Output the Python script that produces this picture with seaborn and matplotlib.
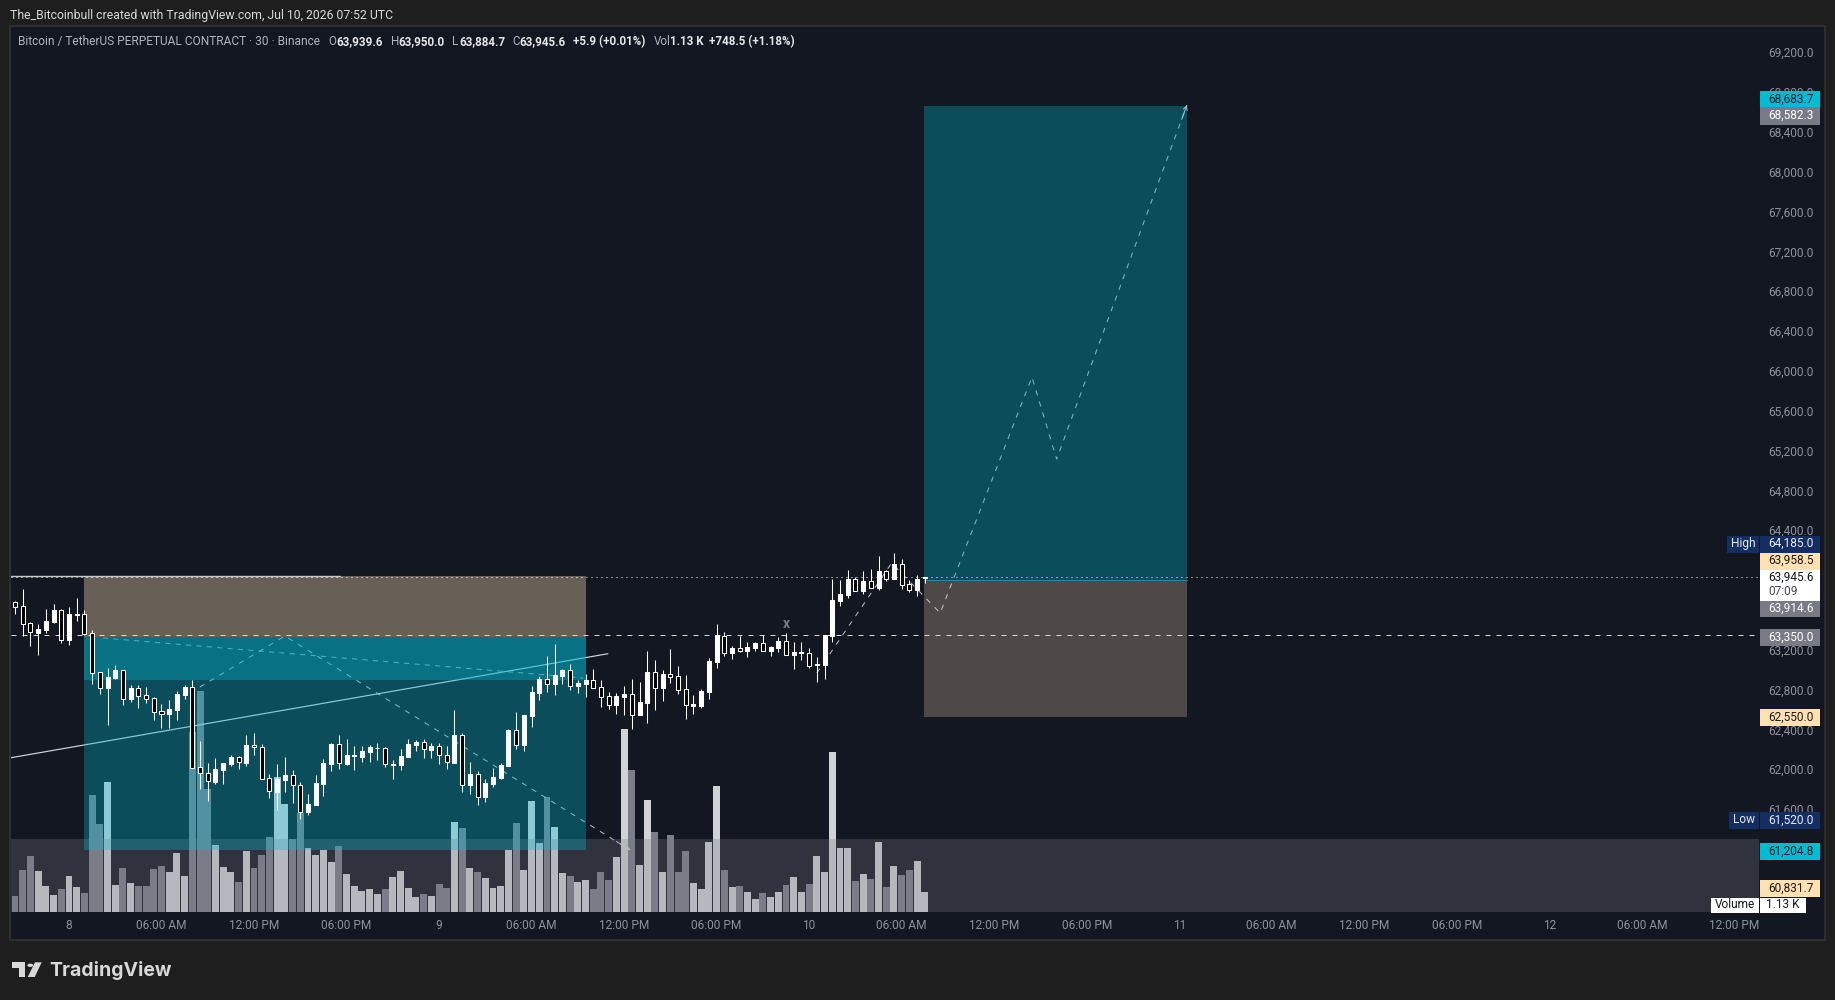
import matplotlib
matplotlib.use("Agg")
import matplotlib.pyplot as plt
from matplotlib.patches import Rectangle, Polygon, Circle
from matplotlib.transforms import ScaledTranslation
import seaborn as sns
import pandas as pd

# 30 minute bars, 0 is the bar of day "8"
first_bar = -7
opens = [63691,63651,63480,63383,63413,63494,63611,63313,63564,63571,63380,62988,62831,62931,63008,62720,62828,62757,62727,62597,
         62570,62610,62761,62838,62034,61974,61887,62008,62068,62135,62078,62255,62235,61924,61787,61907,61954,61854,61586,61656,
         61867,62068,62265,62065,62152,62138,62189,62225,62225,62061,62058,62138,62259,62285,62209,62245,62155,62077,62358,61856,
         61964,61736,61866,61927,62047,62405,62258,62549,62780,62917,62871,62951,63008,62850,62871,62907,62837,62747,62660,62741,
         62767,62560,62680,62988,62831,62968,62948,62818,62654,62650,62791,63092,63350,63182,63229,63202,63229,63279,63202,63233,
         63300,63162,63182,63179,63062,63062,63353,63705,63765,63922,63805,63902,63835,64002,63925,64073,63872,63815,63939.6]
highs = [63705,63825,63497,63474,63624,63674,63624,63644,63735,63614,63413,62988,63032,63062,63008,62861,62861,62841,62741,62670,
         62710,62801,62861,62911,62299,62078,62128,62078,62158,62148,62359,62379,62269,61967,62068,62138,62008,61887,61767,61957,
         62118,62279,62359,62319,62249,62249,62259,62279,62235,62108,62218,62319,62309,62319,62279,62279,62249,62609,62379,62087,
         61997,61917,62027,62077,62419,62589,62559,62850,62951,63152,63272,63021,63071,62911,62971,63021,62911,62790,62780,62851,
         62921,62891,63202,63112,63012,63223,63052,62961,62761,62821,63132,63474,63393,63253,63353,63293,63293,63363,63253,63343,
         63383,63293,63293,63233,63142,63363,63925,63915,64016,63945,64006,64026,64156,64016,64185,64126,63915,63966,63950]
lows = [63574,63356,63253,63162,63383,63484,63283,63263,63504,63363,62871,62771,62459,62921,62660,62690,62630,62680,62510,62429,
        62429,62510,62720,62031,61814,61696,61867,61867,62048,62018,62048,62158,61921,61726,61606,61787,61676,61520,61556,61656,
        61747,61998,62018,62058,62008,62088,62088,62108,62038,61917,62008,62138,62199,62128,62128,62068,62018,62077,61786,61766,
        61656,61686,61836,61917,62047,62218,62198,62439,62710,62790,62760,62871,62810,62780,62740,62834,62640,62620,62569,62560,
        62419,62560,62480,62610,62700,62881,62771,62520,62570,62630,62720,63032,63152,63122,63192,63142,63202,63202,63152,63192,
        63162,63022,63112,63032,62891,62921,63293,63654,63735,63808,63775,63838,63815,63905,63925,63825,63795,63755,63884.7]
closes = [63648,63477,63390,63423,63504,63614,63316,63574,63574,63377,62985,62834,62941,63012,62724,62831,62754,62724,62593,62573,
          62620,62771,62841,62031,61974,61894,62014,62078,62138,62085,62259,62235,61921,61793,61917,61957,61854,61589,61666,61877,
          62078,62269,62075,62158,62158,62199,62239,62232,62065,62068,62148,62269,62289,62215,62249,62155,62085,62358,61856,61967,
          61736,61877,61937,62057,62409,62258,62559,62790,62921,62874,62961,63011,62854,62881,62911,62834,62743,62663,62750,62771,
          62563,62690,62992,62834,62972,62945,62814,62664,62670,62801,63102,63360,63186,63233,63206,63243,63283,63206,63243,63303,
          63166,63192,63192,63052,63072,63363,63715,63775,63925,63808,63905,63838,64006,63929,64076,63868,63818,63925,63945.6]
# volume in thousands
volumes = [0.90,2.37,3.16,2.32,1.47,0.96,1.30,2.03,1.41,1.07,6.61,4.97,7.34,1.53,2.49,1.64,1.47,1.47,2.43,2.60,
           2.26,3.33,2.03,10.17,12.48,6.95,3.78,2.54,2.26,1.69,3.45,2.49,3.22,4.24,7.63,6.10,4.12,5.59,3.62,3.22,
           3.50,2.82,3.73,2.15,1.47,1.19,1.30,1.02,1.30,1.98,2.32,1.36,0.85,1.02,0.90,1.58,1.36,5.08,4.75,2.49,
           2.26,1.92,1.36,1.47,3.50,5.03,2.37,6.27,3.90,6.50,4.80,2.20,2.03,1.69,1.81,1.30,2.26,1.81,3.11,10.34,
           8.02,2.66,6.33,4.52,2.26,4.35,2.26,3.45,1.64,1.30,3.95,7.12,2.37,1.41,1.47,1.13,0.73,1.07,0.85,1.13,
           1.53,1.98,1.13,1.58,3.16,2.26,9.04,3.62,3.62,1.75,2.15,1.86,3.95,1.41,2.60,2.09,2.37,2.88,1.13]

price_ticks = [69200,68800,68400,68000,67600,67200,66800,66400,66000,65600,65200,64800,64400,
               63200,62800,62400,62000,61600]
time_ticks = list(range(0, 217, 12))
time_labels = ["8","06:00 AM","12:00 PM","06:00 PM","9","06:00 AM","12:00 PM","06:00 PM","10","06:00 AM",
               "12:00 PM","06:00 PM","11","06:00 AM","12:00 PM","06:00 PM","12","06:00 AM","12:00 PM"]

# drawings on the chart, in bar / price units
trend_x = [-7.52, 69.9]
trend_y = [62131, 63175]
short_x = [15.7, 28, 72.8]
short_y = [62781, 63353, 61204]
fade_x = [4.4, 66.7]
fade_y = [63333, 62931]
long_x = [97, 106.7, 113, 124.9, 128.1, 145]
long_y = [62981, 64086, 63584, 65952, 65129, 68683]

W, H = 1835, 1000
BG = "#1e1e1e"
PANEL = "#131722"
TEAL = "#00bcd4"
TAN = "#ffe0b2"
GREY = "#787b86"
NAVY = "#142e61"
AXIS_TXT = "#8f919b"

sns.set_style("dark")
plt.rcParams["font.family"] = ["Roboto", "DejaVu Sans"]
plt.rcParams["axes.unicode_minus"] = False


def fx(x):
    return x / W


def fy(y):
    return 1 - y / H


fig = plt.figure(figsize=(W / 100, H / 100), dpi=100, facecolor=BG)
fig.add_artist(Rectangle((fx(10), fy(940)), 1815 / W, 914 / H, transform=fig.transFigure,
                         fc=PANEL, ec="#2e2e2e", lw=1.5))

pos = [fx(11), fy(912), 1748 / W, 885 / H]
xlim = (-7.52, 219.2)
ylim = (60582, 69467)

# volume panel sits under everything else
ax_vol = fig.add_axes(pos, zorder=1)
ax_vol.patch.set_alpha(0)
idx = list(range(first_bar, first_bar + len(opens)))
df = pd.DataFrame({"bar": idx, "volume": volumes,
                   "side": ["up" if c >= o else "down" for o, c in zip(opens, closes)]})
sns.barplot(data=df, x="bar", y="volume", hue="side", hue_order=["up", "down"],
            palette={"up": "#d1d2d6", "down": "#7b7d88"}, native_scale=True, dodge=False,
            width=0.9, saturation=1, legend=False, linewidth=0, ax=ax_vol)
ax_vol.set_xlim(xlim)
ax_vol.set_ylim(0, 50)
ax_vol.axis("off")

ax = fig.add_axes(pos, zorder=2)
ax.patch.set_alpha(0)
ax.set_xlim(xlim)
ax.set_ylim(ylim)
for s in ax.spines.values():
    s.set_visible(False)
ax.grid(False)

# drawings go under the boxes, that is what tints them teal in the original
ax.plot(trend_x, trend_y, color="#d1d4dc", lw=0.85, zorder=1)
ax.plot(fade_x, fade_y, color="#a0a3ad", lw=0.75, ls=(0, (5, 5)), zorder=1)
ax.plot(short_x, short_y, color="#d1d4dc", alpha=0.85, lw=0.75, ls=(0, (5, 6)), zorder=1)
ax.plot(long_x, long_y, color="#d1d4dc", alpha=0.85, lw=0.75, ls=(0, (5, 6)), zorder=1)
for xs, ys in [(short_x, short_y), (long_x, long_y)]:
    tail = (xs[-1] - 0.04 * (xs[-1] - xs[-2]), ys[-1] - 0.04 * (ys[-1] - ys[-2]))
    ax.annotate("", xy=(xs[-1], ys[-1]), xytext=tail, zorder=1,
                arrowprops=dict(arrowstyle="->", color="#d1d4dc", lw=0.7, mutation_scale=7,
                                shrinkA=0, shrinkB=0))

# band behind the volume and the two position boxes
ax.axhspan(ylim[0], 61315, color=GREY, alpha=0.29, lw=0, zorder=2)
ax.fill_between([1.95, 67.05], 61204.8, 63340, color=TEAL, alpha=0.33, lw=0, zorder=2)
ax.fill_between([1.95, 67.05], 62911, 63340, color=TEAL, alpha=0.33, lw=0, zorder=2)
ax.fill_between([1.95, 67.05], 63340, 63958.5, color=TAN, alpha=0.25, lw=0, zorder=2)
ax.fill_between([1.95, 67.05], 63340, 63958.5, color=TAN, alpha=0.15, lw=0, zorder=2)
ax.fill_between([110.9, 145], 63914.6, 68673, color=TEAL, alpha=0.33, lw=0, zorder=2)
ax.fill_between([110.9, 145], 62540, 63914.6, color=TAN, alpha=0.25, lw=0, zorder=2)
ax.plot([110.9, 145], [63914.6, 63914.6], color=TEAL, lw=0.72, alpha=0.6, zorder=2)

ax.plot([xlim[0], 35.2], [63958.5, 63958.5], color="#c9cacd", lw=1, zorder=3)
ax.plot(xlim, [63945.6, 63945.6], color="white", lw=0.72, ls=(0, (1, 4)), zorder=3)
ax.plot(xlim, [63360, 63360], color="#d8d8d8", lw=0.72, ls=(0, (5, 6)), zorder=3)

# candles
ax.vlines(idx, lows, highs, color="white", lw=0.75, zorder=4)
up = [c >= o for o, c in zip(opens, closes)]
bottoms = [min(o, c) for o, c in zip(opens, closes)]
heights = [abs(c - o) for o, c in zip(opens, closes)]
ax.bar(idx, heights, bottom=bottoms, width=0.52, color=["white" if u else "black" for u in up],
       edgecolor="white", linewidth=0.75, zorder=5)

ax.text(93, 63470, "x", color=GREY, fontsize=10, fontweight="bold", ha="center", va="center", zorder=4)

ax.yaxis.tick_right()
ax.set_yticks(price_ticks, [f"{p:,.1f}" for p in price_ticks])
ax.set_xticks(time_ticks, time_labels)
ax.tick_params(axis="y", length=0, pad=6.5, labelsize=8.6, labelcolor=AXIS_TXT)
ax.tick_params(axis="x", length=0, pad=5, labelsize=8.6, labelcolor=AXIS_TXT)
lift = ScaledTranslation(0, 0.015, fig.dpi_scale_trans)
for t in ax.get_yticklabels():
    t.set_transform(t.get_transform() + lift)

# header texts
fig.text(fx(10), fy(15), "The_Bitcoinbull created with TradingView.com, Jul 10, 2026 07:52 UTC",
         color="#d8d8d8", fontsize=8.8, va="center", zorder=6)
fig.text(fx(18), fy(41.5), "Bitcoin / TetherUS PERPETUAL CONTRACT · 30 · Binance", color="#b2b5be",
         fontsize=8.6, va="center", zorder=6)
legend_parts = [(328.5, "O", False), (336, "63,939.6", True), (391, "H", False), (398.5, "63,950.0", True),
                (452, "L", False), (459, "63,884.7", True), (512.5, "C", False), (519, "63,945.6", True),
                (573, "+5.9 (+0.01%)", True), (654, "Vol", False), (670, "1.13 K", True), (709, "+748.5 (+1.18%)", True)]
for px, txt, bold in legend_parts:
    fig.text(fx(px), fy(41.5), txt, color="#e4e5e8" if bold else "#b2b5be",
             fontsize=8.4, fontweight="bold" if bold else "normal", va="center", zorder=6)

# price labels on the right hand scale
price_boxes = [(99.3, "68,683.7", TEAL, "#0b1a20"), (116, "68,582.3", GREY, "white"),
               (544, "64,185.0", NAVY, "#e8eaf0"), (561, "63,958.5", TAN, "#1b1b1b"),
               (608.7, "63,914.6", GREY, "white"), (637.3, "63,350.0", GREY, "white"),
               (717.3, "62,550.0", TAN, "#1b1b1b"), (820.3, "61,520.0", NAVY, "#e8eaf0"),
               (851.3, "61,204.8", TEAL, "#0b1a20"), (888.3, "60,831.7", TAN, "#1b1b1b")]


def box(x0, x1, yc, h, color):
    fig.add_artist(Rectangle((fx(x0), fy(yc + h / 2)), (x1 - x0) / W, h / H,
                             transform=fig.transFigure, fc=color, ec="none", zorder=6))


for yc, txt, fc, tc in price_boxes:
    box(1760, 1820, yc, 17, fc)
    fig.text(fx(1768), fy(yc - 0.5), txt, color=tc, fontsize=8.6, va="center", zorder=7)

box(1760, 1820, 585.5, 31, "white")
fig.text(fx(1768), fy(577.2), "63,945.6", color="#131722", fontsize=8.6, va="center", zorder=7)
fig.text(fx(1768), fy(591.2), "07:09", color="#444750", fontsize=8.6, va="center", zorder=7)

box(1727, 1759, 544, 17, NAVY)
fig.text(fx(1743), fy(543.5), "High", color="#e8eaf0", fontsize=8.6, ha="center", va="center", zorder=7)
box(1729, 1759, 820.3, 17, NAVY)
fig.text(fx(1744), fy(819.8), "Low", color="#e8eaf0", fontsize=8.6, ha="center", va="center", zorder=7)

box(1711, 1759, 905, 15, "white")
fig.text(fx(1735), fy(904.5), "Volume", color="#131722", fontsize=8.6, ha="center", va="center", zorder=7)
box(1760, 1806, 905, 15, "white")
fig.text(fx(1783), fy(904.5), "1.13 K", color="#131722", fontsize=8.6, ha="center", va="center", zorder=7)

# logo
logo = "#d9d9d9"
fig.add_artist(Polygon([(fx(12), fy(962.3)), (fx(25), fy(962.3)), (fx(25), fy(977)), (fx(18.7), fy(977)),
                        (fx(18.7), fy(968)), (fx(12), fy(968))], transform=fig.transFigure, fc=logo, ec="none"))
fig.add_artist(Circle((fx(30.3), fy(965.3)), 3 / W, transform=fig.transFigure, fc=logo, ec="none"))
fig.add_artist(Polygon([(fx(35), fy(962.3)), (fx(41.7), fy(962.3)), (fx(34.7), fy(977)), (fx(27.7), fy(977))],
                       transform=fig.transFigure, fc=logo, ec="none"))
fig.text(fx(49), fy(970), "TradingView", color=logo, fontsize=14, fontweight="bold",
         family=["Inter", "DejaVu Sans"], va="center")

fig.savefig("out.png", dpi=100, facecolor=BG)
